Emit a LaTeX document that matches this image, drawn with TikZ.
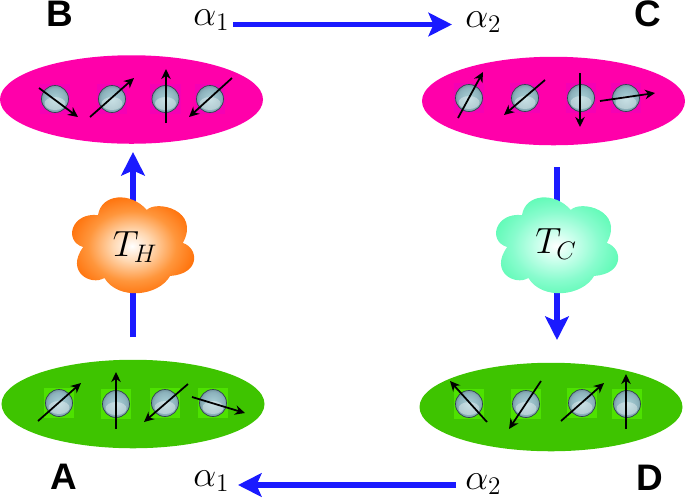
\documentclass[tikz,border=0pt]{standalone}
\usepackage{fontspec}
\setsansfont{Liberation Sans}
\usetikzlibrary{shapes.geometric,arrows.meta}
\definecolor{flowblue}{RGB}{26,26,255}
\definecolor{pinkdisc}{RGB}{255,0,170}
\definecolor{pinkpad}{RGB}{245,0,180}
\definecolor{greendisc}{RGB}{62,196,0}
\definecolor{greenpad}{RGB}{78,226,0}
\definecolor{ballrim}{RGB}{50,68,80}
\definecolor{hotA}{RGB}{255,216,178}
\definecolor{hotB}{RGB}{255,150,60}
\definecolor{hotC}{RGB}{255,106,0}
\definecolor{coldA}{RGB}{200,255,235}
\definecolor{coldB}{RGB}{135,252,205}
\definecolor{coldC}{RGB}{88,250,178}
\definecolor{ballA}{RGB}{172,210,216}
\definecolor{ballB}{RGB}{140,178,188}
\definecolor{ballC}{RGB}{100,130,142}
\definecolor{ballD}{RGB}{62,84,98}
\pgfdeclareradialshading{hotbath}{\pgfpoint{0bp}{0bp}}{color(0bp)=(white); color(7bp)=(hotA); color(16bp)=(hotB); color(25bp)=(hotC); color(50bp)=(hotC)}
\pgfdeclareradialshading{coldbath}{\pgfpoint{0bp}{0bp}}{color(0bp)=(white); color(7bp)=(coldA); color(16bp)=(coldB); color(25bp)=(coldC); color(50bp)=(coldC)}
\pgfdeclareradialshading{glassball}{\pgfpoint{0bp}{0bp}}{color(0bp)=(ballA); color(20bp)=(ballB); color(30bp)=(ballC); color(36bp)=(ballD); color(50bp)=(ballD)}
\tikzset{
  disc/.style={ellipse, minimum width=52.6mm, minimum height=17.7mm, inner sep=0pt},
  pad/.style={minimum size=6.1mm, inner sep=0pt},
  spin/.style={circle, draw=ballrim, line width=0.4pt, minimum size=5.4mm, inner sep=0pt,
    shading=glassball,
    path picture={\fill[white,opacity=.35] (path picture bounding box.center) ++(0,-0.9mm) ellipse (2.1mm and 1.3mm);}},
  spinarrow/.style={-{Stealth[length=2mm,width=1.9mm]}, black, line width=1pt},
  flow/.style={-{Stealth[length=4.7mm,width=4.7mm,inset=1mm]}, flowblue, line width=3.2pt},
  corner/.style={font=\fontsize{21}{25}\selectfont\sffamily\bfseries},
  alpha/.style={anchor=base west, inner sep=0pt, font=\fontsize{20}{24}\selectfont},
  temp/.style={inner sep=0pt, font=\fontsize{22}{26}\selectfont}
}
% outline of the heat bath, around its centre
\newcommand{\bathpath}{(-33,-29) .. controls (-30,-50) and (-2,-52) .. (13,-34)
  .. controls (22,-44) and (64,-34) .. (47,-2)
  .. controls (62,3) and (64,28) .. (35,30)
  .. controls (24,50) and (-14,54) .. (-27,32)
  .. controls (-40,40) and (-64,26) .. (-47,2)
  .. controls (-66,-4) and (-58,-32) .. (-33,-29) -- cycle}
\begin{document}
\begin{tikzpicture}[x=0.2mm,y=-0.2mm]
\useasboundingbox (0,0) rectangle (685,498);

\node[disc, fill=pinkdisc] (discB) at (131.5,99.5) {};
\node[disc, fill=pinkdisc] (discC) at (553.5,101) {};
\node[disc, fill=greendisc] (discA) at (133,404) {};
\node[disc, fill=greendisc] (discD) at (551,407) {};

% pink discs: ball, then arrow tail and head
\foreach \i/\bx/\by/\sx/\sy/\ex/\ey in {
  1/55/99/39/88/78/117, 2/112/99/90/117/134/78, 3/165.5/99/166/123/166/69, 4/210/99/232/78/189/117,
  5/469/98/458/118/483/72, 6/525/98/545/80/504/115, 7/581/98/580/73/580/127, 8/626/98/600/101/655/93}{
  \node[pad, fill=pinkpad] (pad\i) at (\bx,\by) {};
  \node[spin] (ball\i) at (\bx,\by) {};
  \coordinate (tail\i) at (\sx,\sy);
  \coordinate (head\i) at (\ex,\ey);
  \draw[spinarrow] (tail\i) -- (head\i);
}
% green discs
\foreach \i/\bx/\by/\sx/\sy/\ex/\ey in {
  9/59/403/38/421/81/383, 10/116/404/116/429/116/372, 11/165/403/188/384/144/422, 12/213/403/192/397/245/413,
  13/469/404/487/422/450/381, 14/526/404/541/381/509/429, 15/582/403/561/421/604/383, 16/627/404/626/429/626/374}{
  \node[pad, fill=greenpad] (pad\i) at (\bx,\by) {};
  \node[spin] (ball\i) at (\bx,\by) {};
  \coordinate (tail\i) at (\sx,\sy);
  \coordinate (head\i) at (\ex,\ey);
  \draw[spinarrow] (tail\i) -- (head\i);
}

\node[corner] (labB) at (60,14) {B};
\node[corner] (labC) at (648,14) {C};
\node[corner] (labA) at (64,477) {A};
\node[corner] (labD) at (650,478) {D};

\node[alpha] (alphaBC) at (193,25) {$\alpha_1$};
\node[alpha] (alphaCC) at (465,27) {$\alpha_2$};
\node[alpha] (alphaAA) at (193,486) {$\alpha_1$};
\node[alpha] (alphaDD) at (465,489) {$\alpha_2$};

\coordinate (topL) at (233,24.5);
\coordinate (topR) at (452,24.5);
\coordinate (botR) at (456,485);
\coordinate (botL) at (238,485);
\coordinate (hotS) at (133,337);
\coordinate (hotE) at (133,152);
\coordinate (coldS) at (557,167);
\coordinate (coldE) at (557,340);
\draw[flow] (topL) -- (topR);
\draw[flow] (botR) -- (botL);
\draw[flow] (hotS) -- (hotE);
\draw[flow] (coldS) -- (coldE);

\shade[shift={(133,245)}, xscale=1.06, yscale=1.03, shading=hotbath] \bathpath;
\shade[shift={(557,245)}, xscale=1.06, yscale=1.03, shading=coldbath] \bathpath;
\node[temp] (hot) at (135,247) {$T_H$};
\node[temp] (cold) at (556,244) {$T_C$};
\end{tikzpicture}
\end{document}
